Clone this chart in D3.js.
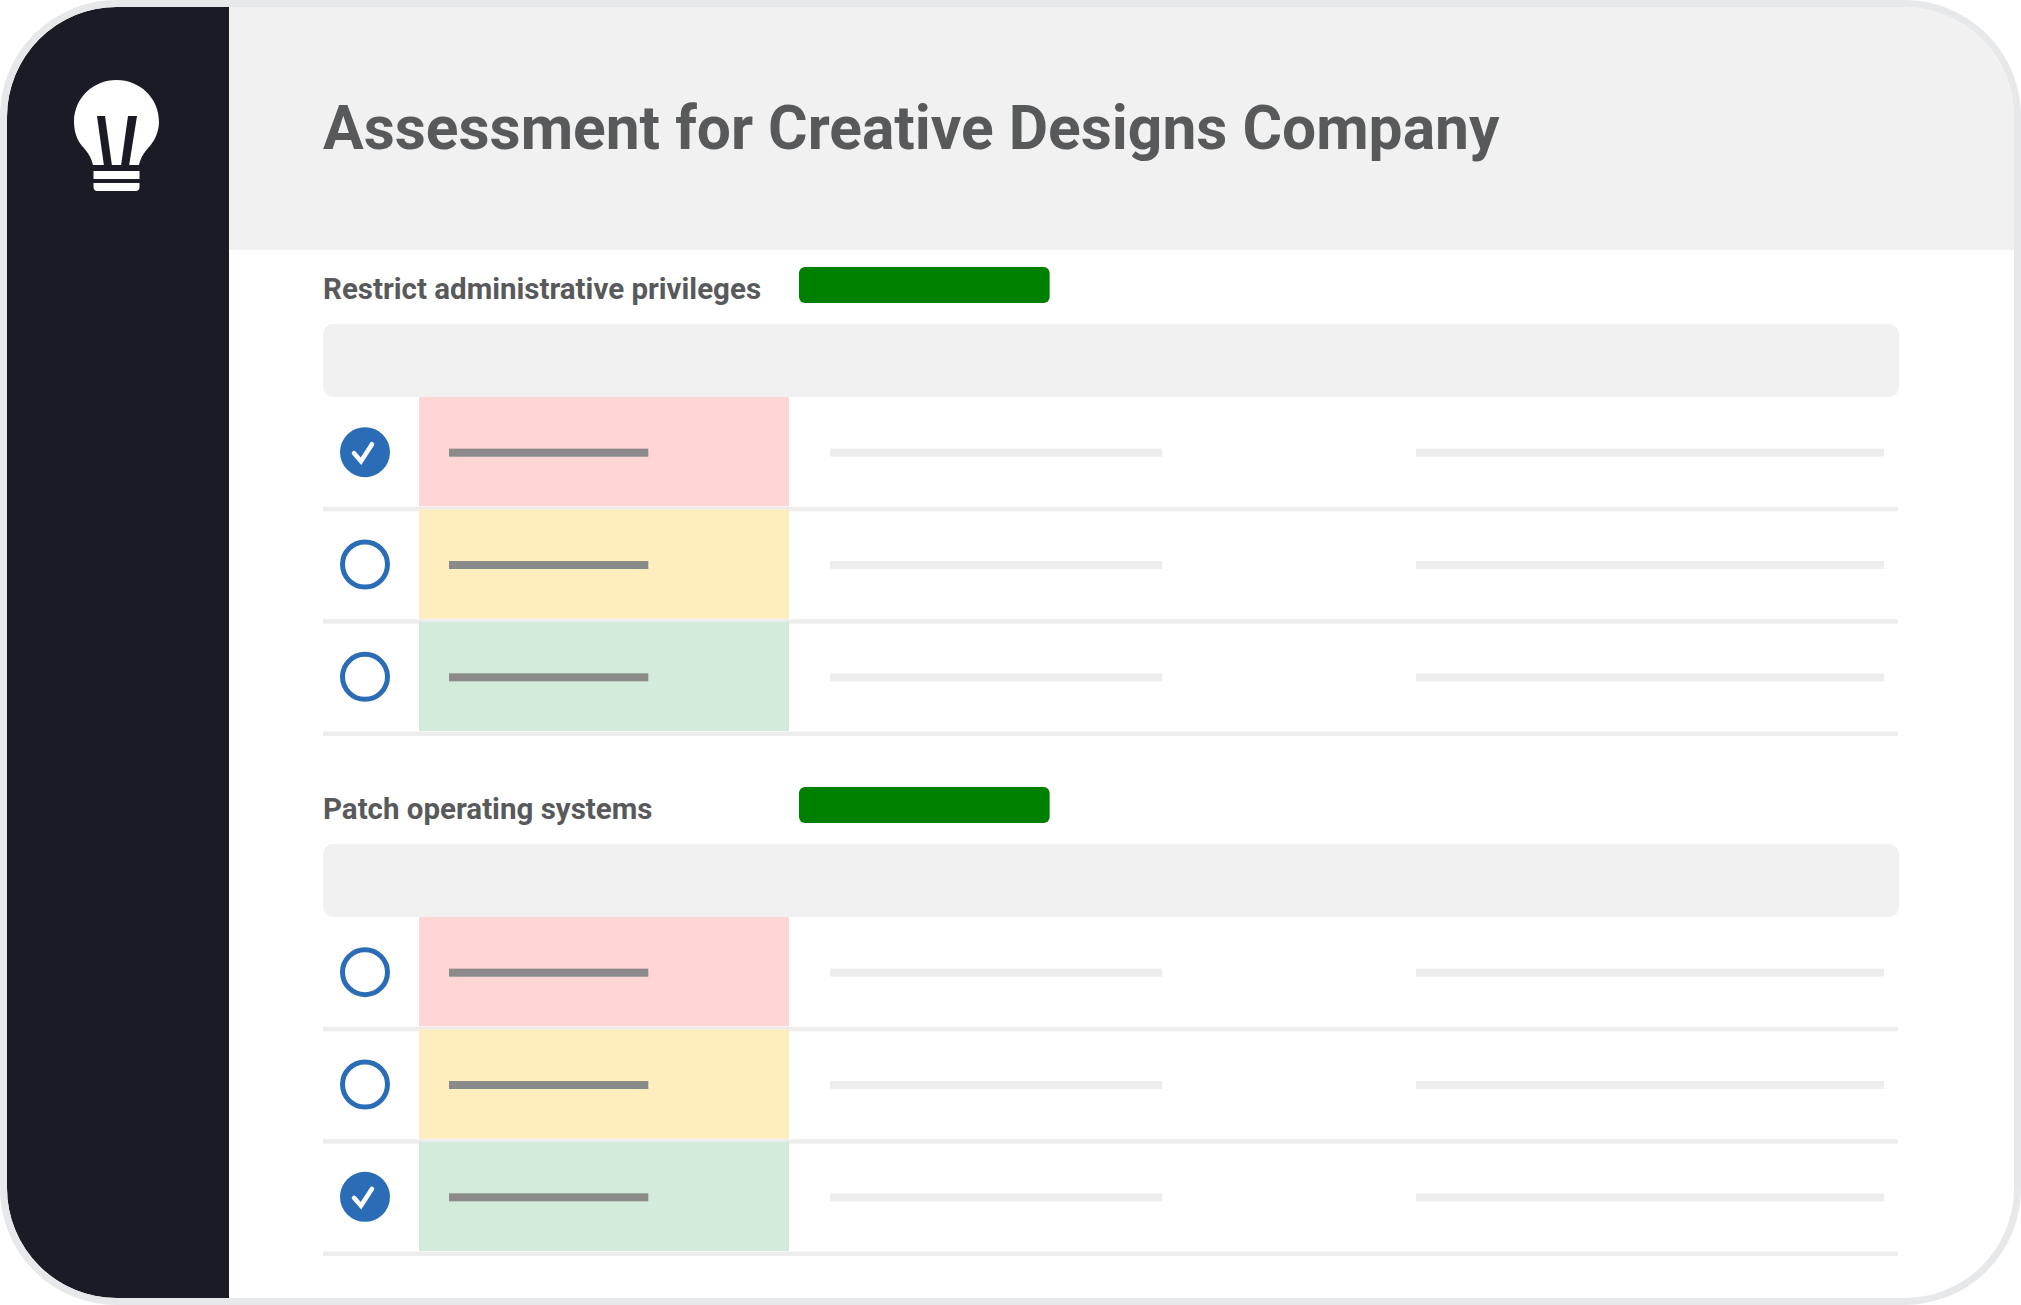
<!DOCTYPE html>
<html>
	<head>
		<meta charset="utf-8">
		<title>Assessment for Creative Designs Company</title>
		<script src="https://cdnjs.cloudflare.com/ajax/libs/d3/7.8.5/d3.min.js"></script>
		<style>
			html, body { margin: 0; padding: 0; background: #fff; }
			svg { display: block; }
			text { font-family: Roboto, sans-serif; font-weight: 700; fill: #58595b; }
		</style>
	</head>
	<body>
		<svg id="chart" width="2021" height="1305"></svg>

		<script>
			// the data
			var chartTitle = "Assessment for Creative Designs Company";
			var sectionNames = ["Restrict administrative privileges", "Patch operating systems"];
			var ratings = ["high", "medium", "low"];
			var checkedRating = ["high", "low"]; // one per section
			var labelLengths = [60, 60, 60];    // grey stub in the coloured cell
			var detailLengths = [55, 55, 55];   // middle column stub
			var noteLengths = [77.5, 77.5, 77.5]; // right column stub
			var pillLengths = [41.5, 41.5];

			var ratingColor = d3.scaleOrdinal(ratings, ["#ffd5d5", "#ffeebd", "#d3ebda"]);

			var svg = d3.select("#chart");
			var width = 2021, height = 1305;

			// length scale shared by all stubs, width of 100 = right edge of table content
			var len = d3.scaleLinear().domain([0, 100]).range([0, 604]);

			var sectionTop = d3.scaleOrdinal(sectionNames, [397, 917]);
			var rowY = d3.scaleBand().domain(ratings).range([0, 337]);

			var clip = svg.append("defs").append("clipPath").attr("id", "frame");
			clip.append("rect")
				.attr("x", 7).attr("y", 7)
				.attr("width", width - 14).attr("height", height - 14)
				.attr("rx", 110).attr("ry", 110);

			var inner = svg.append("g").attr("clip-path", "url(#frame)");

			inner.append("rect").attr("x", 0).attr("y", 0).attr("width", width).attr("height", height).attr("fill", "#fff");
			inner.append("rect").attr("x", 229).attr("y", 0).attr("width", width - 229).attr("height", 250).attr("fill", "#f1f1f1");
			inner.append("rect").attr("x", 0).attr("y", 0).attr("width", 229).attr("height", height).attr("fill", "#1a1b25");

			// outer frame
			svg.append("rect")
				.attr("x", 3.5).attr("y", 3.5)
				.attr("width", width - 7).attr("height", height - 7)
				.attr("rx", 113).attr("ry", 113)
				.attr("fill", "none")
				.attr("stroke", "#e7e8ea")
				.attr("stroke-width", 7);

			// bulb
			var bulb = svg.append("g");
			bulb.append("path")
				.attr("fill", "#fff")
				.attr("d", "M93 165 C91 156 86 150 82 146 C77 140 74 131 74 122 C74 98 93 80 116.500 80 C140 80 159 98 159 122 C159 131 155 140 150 146 C146 150 141 156 139 165 Z");
			bulb.append("path")
				.attr("fill", "#1a1b25")
				.attr("d", "M97 116 L105 116 L112 166 L104 166 Z M128 116 L137 116 L129 166 L121 166 Z");
			bulb.append("rect").attr("x", 93.500).attr("y", 171).attr("width", 46).attr("height", 8).attr("fill", "#fff");
			bulb.append("path")
				.attr("fill", "#fff")
				.attr("d", "M93.500 183 L139.500 183 L139.500 187 Q139.500 191 135.500 191 L97.500 191 Q93.500 191 93.500 187 Z");

			svg.append("text")
				.attr("x", 323).attr("y", 149)
				.style("font-size", "60.500px")
				.text(chartTitle);

			var sections = svg.selectAll("g.section")
				.data(sectionNames)
				.enter()
				.append("g")
				.attr("class", "section")
				.attr("transform", function(d) { return "translate(0," + sectionTop(d) + ")"; });

			sections.append("text")
				.attr("x", 323).attr("y", -98)
				.style("font-size", "29.500px")
				.text(function(d) { return d; });

			sections.append("rect")
				.attr("x", 799).attr("y", -130)
				.attr("width", function(d, i) { return len(pillLengths[i]); })
				.attr("height", 36)
				.attr("rx", 6)
				.attr("fill", "#008000");

			sections.append("rect")
				.attr("x", 323).attr("y", -73)
				.attr("width", 1576).attr("height", 73)
				.attr("rx", 10)
				.attr("fill", "#f1f1f1");

			sections.each(function(name, s) {
				var rows = d3.select(this).selectAll("g.row")
					.data(ratings)
					.enter()
					.append("g")
					.attr("class", "row")
					.attr("transform", function(d) { return "translate(0," + rowY(d) + ")"; });
				var h = rowY.bandwidth();

				rows.append("rect")
					.attr("x", 419).attr("y", 0)
					.attr("width", 370).attr("height", h - 3)
					.attr("fill", function(d) { return ratingColor(d); });

				rows.append("rect")
					.attr("x", 323).attr("y", h - 2.500)
					.attr("width", 1575).attr("height", 4.500)
					.attr("fill", "#ededed");

				rows.append("rect")
					.attr("x", 449).attr("y", h / 2 - 4.500)
					.attr("width", function(d, i) { return len(labelLengths[i]) * 0.55; })
					.attr("height", 8)
					.attr("fill", "#8a8a8a");

				rows.append("rect")
					.attr("x", 830).attr("y", h / 2 - 4.500)
					.attr("width", function(d, i) { return len(detailLengths[i]); })
					.attr("height", 8)
					.attr("fill", "#ededed");

				rows.append("rect")
					.attr("x", 1416).attr("y", h / 2 - 4.500)
					.attr("width", function(d, i) { return len(noteLengths[i]); })
					.attr("height", 8)
					.attr("fill", "#ededed");

				rows.append("circle")
					.attr("cx", 365).attr("cy", h / 2 - 1)
					.attr("r", function(d) { return d === checkedRating[s] ? 25 : 22.500; })
					.attr("fill", function(d) { return d === checkedRating[s] ? "#2b6cb6" : "#fff"; })
					.attr("stroke", function(d) { return d === checkedRating[s] ? "none" : "#2b6cb6"; })
					.attr("stroke-width", 5);

				rows.filter(function(d) { return d === checkedRating[s]; })
					.append("path")
					.attr("d", "M354 " + (h / 2) + " l7 8 l11 -17")
					.attr("fill", "none")
					.attr("stroke", "#fff")
					.attr("stroke-width", 4.500)
					.attr("stroke-linecap", "round")
					.attr("stroke-linejoin", "miter");
			});
		</script>
	</body>
</html>
